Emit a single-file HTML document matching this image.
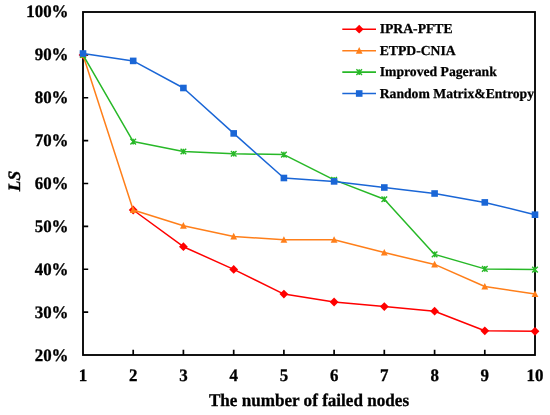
<!DOCTYPE html>
<html><head><meta charset="utf-8"><title>LS chart</title>
<style>
html,body{margin:0;padding:0;background:#fff;}
svg{display:block;}
text{font-family:"Liberation Serif","Times New Roman",serif;font-weight:bold;fill:#000;text-rendering:geometricPrecision;}
.tk{font-size:16.9px;stroke:#000;stroke-width:0.3px;}
.lg{font-size:13.68px;stroke:#000;stroke-width:0.25px;}
</style></head><body>
<svg width="550" height="415" viewBox="0 0 550 415">
<rect width="550" height="415" fill="#fff"/>
<rect x="83" y="12" width="452.0" height="343.0" fill="none" stroke="#000" stroke-width="1.85"/>
<path d="M133.2 355v-5.2M183.4 355v-5.2M233.7 355v-5.2M283.9 355v-5.2M334.1 355v-5.2M384.3 355v-5.2M434.6 355v-5.2M484.8 355v-5.2M83 54.88h5.2M83 97.75h5.2M83 140.62h5.2M83 183.50h5.2M83 226.38h5.2M83 269.25h5.2M83 312.12h5.2" stroke="#000" stroke-width="1.7" fill="none"/>
<text class="tk" transform="translate(68.5,17) scale(1,1.04)" text-anchor="end">100%</text>
<text class="tk" transform="translate(68.5,60) scale(1,1.04)" text-anchor="end">90%</text>
<text class="tk" transform="translate(68.5,103) scale(1,1.04)" text-anchor="end">80%</text>
<text class="tk" transform="translate(68.5,146) scale(1,1.04)" text-anchor="end">70%</text>
<text class="tk" transform="translate(68.5,189) scale(1,1.04)" text-anchor="end">60%</text>
<text class="tk" transform="translate(68.5,232) scale(1,1.04)" text-anchor="end">50%</text>
<text class="tk" transform="translate(68.5,275) scale(1,1.04)" text-anchor="end">40%</text>
<text class="tk" transform="translate(68.5,318) scale(1,1.04)" text-anchor="end">30%</text>
<text class="tk" transform="translate(68.5,361) scale(1,1.04)" text-anchor="end">20%</text>
<text class="tk" transform="translate(83.0,381) scale(1,1.04)" text-anchor="middle">1</text>
<text class="tk" transform="translate(133.2,381) scale(1,1.04)" text-anchor="middle">2</text>
<text class="tk" transform="translate(183.4,381) scale(1,1.04)" text-anchor="middle">3</text>
<text class="tk" transform="translate(233.7,381) scale(1,1.04)" text-anchor="middle">4</text>
<text class="tk" transform="translate(283.9,381) scale(1,1.04)" text-anchor="middle">5</text>
<text class="tk" transform="translate(334.1,381) scale(1,1.04)" text-anchor="middle">6</text>
<text class="tk" transform="translate(384.3,381) scale(1,1.04)" text-anchor="middle">7</text>
<text class="tk" transform="translate(434.6,381) scale(1,1.04)" text-anchor="middle">8</text>
<text class="tk" transform="translate(484.8,381) scale(1,1.04)" text-anchor="middle">9</text>
<text class="tk" transform="translate(535.0,381) scale(1,1.04)" text-anchor="middle">10</text>
<text transform="translate(309,406) scale(1,1.04)" text-anchor="middle" stroke="#000" stroke-width="0.3" style="font-size:17.1px">The number of failed nodes</text>
<text transform="translate(19.9,181.0) rotate(-90)" text-anchor="middle" stroke="#000" stroke-width="0.4" style="font-size:17.4px;font-style:italic">LS</text>
<polyline points="133.2,210.0 183.4,246.7 233.7,269.4 283.9,294.1 334.1,302.0 384.3,306.6 434.6,311.2 484.8,330.8 535.0,331.3" fill="none" stroke="#ff0000" stroke-width="1.5" stroke-linejoin="round"/>
<path d="M83.0 50.5L87.4 54.9L83.0 59.3L78.6 54.9Z" fill="#ff0000"/>
<path d="M133.2 205.6L137.6 210.0L133.2 214.4L128.8 210.0Z" fill="#ff0000"/>
<path d="M183.4 242.3L187.8 246.7L183.4 251.1L179.0 246.7Z" fill="#ff0000"/>
<path d="M233.7 265.0L238.1 269.4L233.7 273.8L229.3 269.4Z" fill="#ff0000"/>
<path d="M283.9 289.7L288.3 294.1L283.9 298.5L279.5 294.1Z" fill="#ff0000"/>
<path d="M334.1 297.6L338.5 302.0L334.1 306.4L329.7 302.0Z" fill="#ff0000"/>
<path d="M384.3 302.2L388.7 306.6L384.3 311.0L379.9 306.6Z" fill="#ff0000"/>
<path d="M434.6 306.8L439.0 311.2L434.6 315.6L430.2 311.2Z" fill="#ff0000"/>
<path d="M484.8 326.4L489.2 330.8L484.8 335.2L480.4 330.8Z" fill="#ff0000"/>
<path d="M535.0 326.9L539.4 331.3L535.0 335.7L530.6 331.3Z" fill="#ff0000"/>
<polyline points="83.0,54.9 133.2,210.0 183.4,225.7 233.7,236.4 283.9,239.8 334.1,239.8 384.3,252.6 434.6,264.4 484.8,286.5 535.0,294.0" fill="none" stroke="#ff7f1a" stroke-width="1.5" stroke-linejoin="round"/>
<path d="M83.0 51.3L86.4 57.9L79.6 57.9Z" fill="#ff7f1a"/>
<path d="M133.2 206.4L136.6 213.0L129.8 213.0Z" fill="#ff7f1a"/>
<path d="M183.4 222.1L186.8 228.7L180.0 228.7Z" fill="#ff7f1a"/>
<path d="M233.7 232.8L237.1 239.4L230.3 239.4Z" fill="#ff7f1a"/>
<path d="M283.9 236.2L287.3 242.8L280.5 242.8Z" fill="#ff7f1a"/>
<path d="M334.1 236.2L337.5 242.8L330.7 242.8Z" fill="#ff7f1a"/>
<path d="M384.3 249.0L387.7 255.6L380.9 255.6Z" fill="#ff7f1a"/>
<path d="M434.6 260.8L438.0 267.4L431.2 267.4Z" fill="#ff7f1a"/>
<path d="M484.8 282.9L488.2 289.5L481.4 289.5Z" fill="#ff7f1a"/>
<path d="M535.0 290.4L538.4 297.0L531.6 297.0Z" fill="#ff7f1a"/>
<polyline points="83.0,54.9 133.2,141.6 183.4,151.5 233.7,153.8 283.9,154.6 334.1,179.9 384.3,199.2 434.6,254.4 484.8,268.9 535.0,269.6" fill="none" stroke="#27b827" stroke-width="1.5" stroke-linejoin="round"/>
<path d="M80.2 52.1L85.8 57.7M85.8 52.1L80.2 57.7M83.0 52.1L83.0 57.7" stroke="#27b827" stroke-width="1.4" fill="none"/>
<path d="M130.4 138.8L136.0 144.4M136.0 138.8L130.4 144.4M133.2 138.8L133.2 144.4" stroke="#27b827" stroke-width="1.4" fill="none"/>
<path d="M180.6 148.7L186.2 154.3M186.2 148.7L180.6 154.3M183.4 148.7L183.4 154.3" stroke="#27b827" stroke-width="1.4" fill="none"/>
<path d="M230.9 151.0L236.5 156.6M236.5 151.0L230.9 156.6M233.7 151.0L233.7 156.6" stroke="#27b827" stroke-width="1.4" fill="none"/>
<path d="M281.1 151.8L286.7 157.4M286.7 151.8L281.1 157.4M283.9 151.8L283.9 157.4" stroke="#27b827" stroke-width="1.4" fill="none"/>
<path d="M331.3 177.1L336.9 182.7M336.9 177.1L331.3 182.7M334.1 177.1L334.1 182.7" stroke="#27b827" stroke-width="1.4" fill="none"/>
<path d="M381.5 196.4L387.1 202.0M387.1 196.4L381.5 202.0M384.3 196.4L384.3 202.0" stroke="#27b827" stroke-width="1.4" fill="none"/>
<path d="M431.8 251.6L437.4 257.2M437.4 251.6L431.8 257.2M434.6 251.6L434.6 257.2" stroke="#27b827" stroke-width="1.4" fill="none"/>
<path d="M482.0 266.1L487.6 271.7M487.6 266.1L482.0 271.7M484.8 266.1L484.8 271.7" stroke="#27b827" stroke-width="1.4" fill="none"/>
<path d="M532.2 266.8L537.8 272.4M537.8 266.8L532.2 272.4M535.0 266.8L535.0 272.4" stroke="#27b827" stroke-width="1.4" fill="none"/>
<polyline points="83.0,53.5 133.2,60.9 183.4,88.0 233.7,133.4 283.9,178.0 334.1,181.4 384.3,187.5 434.6,193.5 484.8,202.4 535.0,214.7" fill="none" stroke="#1a66d6" stroke-width="1.5" stroke-linejoin="round"/>
<rect x="79.7" y="50.2" width="6.6" height="6.6" fill="#1a66d6"/>
<rect x="129.9" y="57.6" width="6.6" height="6.6" fill="#1a66d6"/>
<rect x="180.1" y="84.7" width="6.6" height="6.6" fill="#1a66d6"/>
<rect x="230.4" y="130.1" width="6.6" height="6.6" fill="#1a66d6"/>
<rect x="280.6" y="174.7" width="6.6" height="6.6" fill="#1a66d6"/>
<rect x="330.8" y="178.1" width="6.6" height="6.6" fill="#1a66d6"/>
<rect x="381.0" y="184.2" width="6.6" height="6.6" fill="#1a66d6"/>
<rect x="431.3" y="190.2" width="6.6" height="6.6" fill="#1a66d6"/>
<rect x="481.5" y="199.1" width="6.6" height="6.6" fill="#1a66d6"/>
<rect x="531.7" y="211.4" width="6.6" height="6.6" fill="#1a66d6"/>
<path d="M342.3 29.2H376" stroke="#ff0000" stroke-width="1.6"/>
<path d="M359.2 24.8L363.6 29.2L359.2 33.6L354.8 29.2Z" fill="#ff0000"/>
<text class="lg" x="379.7" y="33">IPRA-PFTE</text>
<path d="M342.3 50.7H376" stroke="#ff7f1a" stroke-width="1.6"/>
<path d="M359.2 47.1L362.6 53.7L355.8 53.7Z" fill="#ff7f1a"/>
<text class="lg" x="379.7" y="55">ETPD-CNIA</text>
<path d="M342.3 72.1H376" stroke="#27b827" stroke-width="1.6"/>
<path d="M356.4 69.3L362.0 74.9M362.0 69.3L356.4 74.9M359.2 69.3L359.2 74.9" stroke="#27b827" stroke-width="1.4" fill="none"/>
<text class="lg" x="379.7" y="76">Improved Pagerank</text>
<path d="M342.3 93.5H376" stroke="#1a66d6" stroke-width="1.6"/>
<rect x="355.9" y="90.2" width="6.6" height="6.6" fill="#1a66d6"/>
<text class="lg" x="379.7" y="98">Random Matrix&amp;Entropy</text>
</svg>
</body></html>
